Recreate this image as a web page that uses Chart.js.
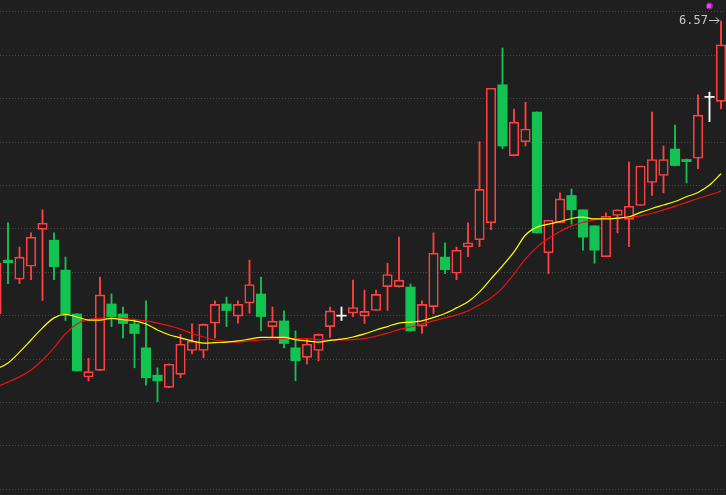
<!DOCTYPE html>
<html><head><meta charset="utf-8">
<script src="https://cdn.jsdelivr.net/npm/chart.js@4"></script>
<style>html,body{margin:0;padding:0;background:#1f1f1f;overflow:hidden}canvas{display:block}</style>
</head><body>
<canvas id="c" width="726" height="495"></canvas>
<script>
// One entry per trading day (the first one is only partly visible at the left edge)
const opens  = [5.895,6.019,5.975,6.005,6.090,6.065,5.996,5.895,5.750,5.765,5.918,5.895,5.872,5.817,5.754,5.726,5.756,5.811,5.811,5.874,5.918,5.890,5.920,5.941,5.866,5.879,5.817,5.795,5.811,5.866,5.890,5.897,5.890,5.903,5.958,5.958,5.957,5.867,5.912,6.026,5.989,6.050,6.066,6.105,6.423,6.260,6.292,6.360,6.036,6.105,6.168,6.135,6.098,6.027,6.122,6.113,6.145,6.198,6.214,6.275,6.251,6.254,6.394,6.385];
const highs  = [6.031,6.105,6.049,6.082,6.135,6.082,6.026,5.896,5.793,5.980,5.941,5.911,5.883,5.925,5.771,5.780,5.848,5.872,5.872,5.925,5.934,5.925,6.019,5.980,5.911,5.902,5.856,5.837,5.849,5.911,5.911,5.973,5.950,5.950,6.012,6.072,5.964,5.925,6.082,6.059,6.049,6.105,6.292,6.415,6.508,6.367,6.383,6.361,6.111,6.174,6.183,6.135,6.098,6.128,6.135,6.245,6.236,6.360,6.282,6.330,6.252,6.400,6.406,6.570];
const lows   = [5.881,5.965,5.965,5.974,5.926,5.974,5.880,5.763,5.741,5.765,5.866,5.840,5.771,5.731,5.693,5.725,5.748,5.803,5.794,5.840,5.866,5.874,5.897,5.856,5.841,5.817,5.741,5.780,5.787,5.841,5.880,5.889,5.873,5.903,5.903,5.957,5.856,5.850,5.896,5.988,5.974,6.027,6.050,6.089,6.276,6.259,6.282,6.081,5.988,6.105,6.102,6.042,6.012,6.027,6.082,6.050,6.145,6.168,6.174,6.236,6.197,6.230,6.338,6.368];
const closes = [6.013,6.013,6.026,6.072,6.104,6.004,5.895,5.764,5.762,5.939,5.889,5.873,5.850,5.748,5.741,5.779,5.825,5.832,5.871,5.917,5.903,5.917,5.963,5.889,5.878,5.827,5.787,5.825,5.848,5.902,5.890,5.910,5.901,5.940,5.986,5.973,5.856,5.917,6.035,5.997,6.042,6.059,6.182,6.415,6.282,6.337,6.321,6.082,6.111,6.160,6.135,6.072,6.042,6.120,6.135,6.143,6.236,6.251,6.251,6.237,6.246,6.353,6.394,6.515];
const maFast = [5.768,5.782,5.807,5.835,5.863,5.886,5.894,5.888,5.881,5.881,5.885,5.882,5.879,5.872,5.858,5.847,5.840,5.833,5.828,5.829,5.830,5.833,5.837,5.841,5.841,5.841,5.836,5.833,5.830,5.834,5.837,5.842,5.849,5.858,5.866,5.874,5.876,5.879,5.887,5.896,5.909,5.923,5.946,5.976,6.006,6.038,6.077,6.095,6.102,6.108,6.115,6.118,6.114,6.114,6.116,6.119,6.129,6.138,6.146,6.154,6.165,6.175,6.192,6.218];
const maSlow = [5.727,5.738,5.750,5.766,5.789,5.817,5.849,5.872,5.882,5.885,5.886,5.885,5.882,5.879,5.874,5.868,5.860,5.850,5.842,5.835,5.832,5.830,5.833,5.835,5.837,5.838,5.838,5.838,5.836,5.835,5.835,5.836,5.838,5.844,5.851,5.859,5.865,5.872,5.879,5.886,5.893,5.902,5.916,5.932,5.955,5.987,6.022,6.049,6.069,6.085,6.098,6.106,6.112,6.115,6.116,6.118,6.121,6.127,6.135,6.143,6.152,6.161,6.169,6.178];
const gridLevels = [6.591,6.491,6.391,6.291,6.191,6.091,5.991,5.891,5.791,5.691,5.591,5.491];
const markerDay = 62;

const BG = '#1f1f1f';
const UP = '#ff4040', DOWN = '#12c352', FLAT = '#ffffff';
const days = opens.map((_, j) => j);
const colorOf = j => closes[j] > opens[j] ? UP : (closes[j] < opens[j] ? DOWN : FLAT);

const bgPlugin = {
  id: 'bg',
  beforeDraw(chart) {
    const ctx = chart.ctx;
    ctx.save(); ctx.fillStyle = BG; ctx.fillRect(0, 0, chart.width, chart.height); ctx.restore();
  },
  beforeDatasetsDraw(chart) {
    const ctx = chart.ctx, y = chart.scales.y, a = chart.chartArea;
    ctx.save();
    ctx.strokeStyle = '#474747'; ctx.lineWidth = 1; ctx.setLineDash([1, 2]);
    gridLevels.forEach(v => {
      const py = Math.floor(y.getPixelForValue(v)) + 0.5;
      ctx.beginPath(); ctx.moveTo(a.left, py); ctx.lineTo(a.right, py); ctx.stroke();
    });
    ctx.restore();
  },
  afterDatasetsDraw(chart) {
    const ctx = chart.ctx, xs = chart.scales.x, ys = chart.scales.y;
    // highest high label
    let mi = 0; highs.forEach((h, j) => { if (h > highs[mi]) mi = j; });
    const hx = xs.getPixelForValue(mi), hy = ys.getPixelForValue(highs[mi]);
    ctx.save();
    ctx.fillStyle = '#c8c8c8'; ctx.strokeStyle = '#c8c8c8'; ctx.lineWidth = 1;
    ctx.font = '12px "DejaVu Sans Mono", monospace';
    ctx.textAlign = 'right'; ctx.textBaseline = 'middle';
    ctx.fillText(highs[mi].toFixed(2), hx - 13, hy);
    const ay = Math.round(hy) - 0.5;
    ctx.beginPath(); ctx.moveTo(hx - 12, ay); ctx.lineTo(hx - 2, ay); ctx.stroke();
    ctx.beginPath(); ctx.moveTo(hx - 5, ay - 3); ctx.lineTo(hx - 2, ay); ctx.lineTo(hx - 5, ay + 3); ctx.stroke();
    // event marker
    const mx = xs.getPixelForValue(markerDay);
    ctx.fillStyle = '#8a2c8a';
    ctx.beginPath(); ctx.arc(mx, 6, 3.5, 0, Math.PI * 2); ctx.fill();
    ctx.fillStyle = '#f040f0';
    ctx.fillRect(Math.round(mx) - 2, 4, 4, 4);
    ctx.restore();
  }
};

new Chart(document.getElementById('c'), {
  data: {
    labels: days,
    datasets: [
      {
        type: 'line', label: 'MA10', order: 0,
        data: days.map(j => ({x: j, y: maFast[j]})),
        borderColor: '#ffff00', borderWidth: 1.2, pointRadius: 0, cubicInterpolationMode: 'monotone'
      },
      {
        type: 'line', label: 'MA20', order: 0,
        data: days.map(j => ({x: j, y: maSlow[j]})),
        borderColor: '#f01010', borderWidth: 1.2, pointRadius: 0, cubicInterpolationMode: 'monotone'
      },
      {
        type: 'bar', label: 'body', order: 1, grouped: false,
        data: days.map(j => ({x: j, y: [opens[j], closes[j]]})),
        backgroundColor: days.map(j => colorOf(j) === UP ? BG : colorOf(j)),
        borderColor: days.map(colorOf),
        borderWidth: days.map(j => colorOf(j) === UP ? 1.6 : 0),
        borderSkipped: false, barThickness: 9.5, minBarLength: 1
      },
      {
        type: 'bar', label: 'wick', order: 2, grouped: false,
        data: days.map(j => ({x: j, y: [lows[j], highs[j]]})),
        backgroundColor: days.map(colorOf),
        borderWidth: 0, barThickness: 1.2, minBarLength: 1
      }
    ]
  },
  options: {
    responsive: false, animation: false, devicePixelRatio: 1,
    layout: { padding: 0 },
    plugins: { legend: { display: false }, tooltip: { enabled: false } },
    scales: {
      x: { type: 'linear', display: false, offset: false, grid: { offset: false }, min: 0.3043, max: 63.4348 },
      y: { type: 'linear', display: false, min: 5.4779, max: 6.6184 }
    }
  },
  plugins: [bgPlugin]
});
</script>
</body></html>
